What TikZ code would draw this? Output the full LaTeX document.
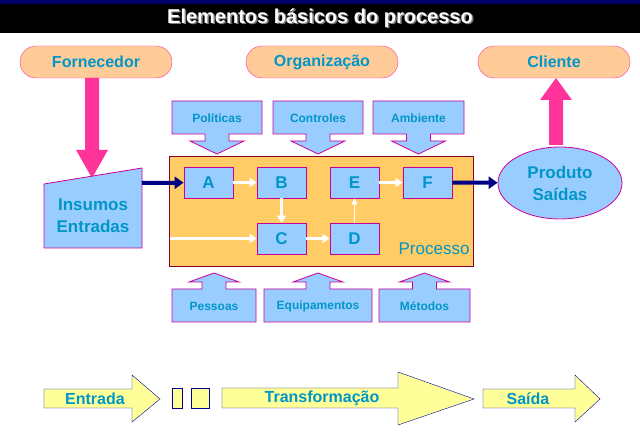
\documentclass[tikz,border=0pt]{standalone}
\usepackage{fontspec}
\setmainfont{Liberation Sans}
\usetikzlibrary{arrows.meta,shapes.geometric}
\definecolor{tx}{RGB}{0,150,200}
\definecolor{lb}{RGB}{153,204,255}
\definecolor{mg}{RGB}{204,0,153}
\definecolor{pk}{RGB}{255,51,153}
\definecolor{pe}{RGB}{255,204,153}
\definecolor{og}{RGB}{255,204,102}
\definecolor{yl}{RGB}{255,255,153}
\definecolor{nvc}{RGB}{0,0,128}
\begin{document}
\begin{tikzpicture}[x=1pt,y=-1pt,font=\bfseries,
  txt/.style={text=tx},
  pill/.style={draw=pk,fill=pe,rounded corners=16pt,minimum width=152pt,minimum height=32pt,txt,font=\bfseries\fontsize{16}{18}\selectfont},
  blk/.style={draw=mg,fill=lb,thick},
  lbl/.style={txt,font=\bfseries\fontsize{12}{14}\selectfont},
  sq/.style={blk,minimum width=49pt,minimum height=31pt,inner sep=0pt,txt,font=\bfseries\fontsize{17}{19}\selectfont},
  wh/.style={white,line width=3pt,-{Triangle[length=7pt,width=9pt]}},
  nv/.style={nvc,line width=4pt,-{Triangle[length=9pt,width=12pt]}},
  yel/.style={draw=blue!60!black,fill=yl},
  ylbl/.style={txt,font=\bfseries\fontsize{16}{18}\selectfont}]
\useasboundingbox (0,0) rectangle (640,443);
\fill[white] (0,0) rectangle (640,443);
\fill[blue!40!black] (0,0) rectangle (640,4);
\fill[black] (0,4) rectangle (640,33);
\node[text=gray,font=\bfseries\fontsize{20}{22}\selectfont] at (321.5,19.5) {Elementos básicos do processo};
\node (title) [text=white,font=\bfseries\fontsize{20}{22}\selectfont] at (320,18) {Elementos básicos do processo};
% pills
\node[pill] (forn) at (96,62) {Fornecedor};
\node[pill] (org) at (322,62) {Organização};
\node[pill] (cli) at (554,62) {Cliente};
% pink arrows
\fill[pk] (85,78) -- (99,78) -- (99,150) -- (108,150) -- (92,178) -- (76,150) -- (85,150) -- cycle;
\fill[pk] (549,145) -- (563,145) -- (563,100) -- (572,100) -- (556,78) -- (540,100) -- (549,100) -- cycle;
% process
\node[draw=purple!70!black,fill=og,thick,minimum width=304pt,minimum height=110pt,anchor=north west,inner sep=0pt] (proc) at (169,156) {};
\node[txt,font=\fontsize{17}{19}\selectfont,anchor=south east] (proclbl) at (473,258) {Processo};
% insumos
\draw[blk] (44,184) -- (142,168) -- (142,248) -- (44,248) -- cycle;
\node[txt,align=center,font=\bfseries\fontsize{17}{22}\selectfont] (ins) at (93,216) {Insumos\\Entradas};
\coordinate (insr) at (142,183);
% produto
\node[blk,ellipse,minimum width=124pt,minimum height=72pt,inner sep=0pt,txt,align=center,font=\bfseries\fontsize{17}{22}\selectfont] (prod) at (560,183) {Produto\\Saídas};
% squares
\node[sq] (A) at (208.5,182.5) {A};
\node[sq] (B) at (281.5,182.5) {B};
\node[sq] (E) at (354.5,182.5) {E};
\node[sq] (F) at (427.5,182.5) {F};
\node[sq] (C) at (281.5,238.5) {C};
\node[sq] (D) at (354.5,238.5) {D};
\coordinate (cin) at (170,238.5);
\draw[wh] (A) -- (B);
\draw[wh] (B) -- (C);
\draw[wh] (C) -- (D);
\draw[white,line width=1.5pt,-{Triangle[length=6pt,width=6pt]}] (D) -- (E);
\draw[wh] (E) -- (F);
\draw[wh] (cin) -- (C);
\draw[nv] (insr) -- (A);
\draw[nv] (F) -- (prod);
% top input arrows
\foreach \n/\xa/\xb/\t in {pol/172/262/Políticas,con/273/363/Controles,amb/373/464/Ambiente}{
  \pgfmathsetmacro\xm{(\xa+\xb)/2}
  \draw[blk] (\xa,101) -- (\xb,101) -- (\xb,134) -- (\xm+12,134) -- (\xm+12,141) -- (\xm+27,141) -- (\xm,154) -- (\xm-27,141) -- (\xm-12,141) -- (\xm-12,134) -- (\xa,134) -- cycle;
  \node[lbl] (\n) at (\xm,118) {\t};
}
\foreach \n/\xa/\xb/\t in {pes/172/256/Pessoas,equ/264/372/Equipamentos,met/379/470/Métodos}{
  \pgfmathsetmacro\xm{(\xa+\xb)/2}
  \draw[blk] (\xa,322) -- (\xb,322) -- (\xb,289) -- (\xm+12,289) -- (\xm+12,282) -- (\xm+25,282) -- (\xm,273) -- (\xm-25,282) -- (\xm-12,282) -- (\xm-12,289) -- (\xa,289) -- cycle;
  \node[lbl] (\n) at (\xm,306) {\t};
}
% bottom arrows
\draw[yel] (44,389) -- (132,389) -- (132,375) -- (160,399) -- (132,422) -- (132,408) -- (44,408) -- cycle;
\node[ylbl] (ent) at (95,399) {Entrada};
\draw[yel] (172,388) rectangle (182,408);
\draw[yel] (191,388) rectangle (209,408);
\draw[yel] (222,388) -- (398,388) -- (398,372) -- (474,399) -- (398,425) -- (398,408) -- (222,408) -- cycle;
\node[ylbl] (tra) at (322,398) {Transformação};
\draw[yel] (483,389) -- (575,389) -- (575,375) -- (600,399) -- (575,422) -- (575,408) -- (483,408) -- cycle;
\node[ylbl] (sai) at (528,399) {Saída};
\end{tikzpicture}
\end{document}
